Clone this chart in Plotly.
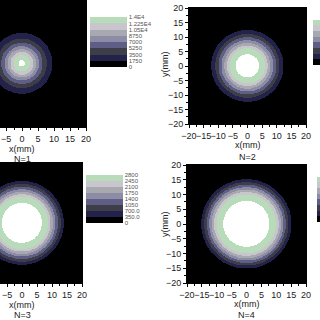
import numpy as np
import plotly.graph_objects as go

# ---------------- data ----------------
panel_names = ["N=1", "N=2", "N=3", "N=4"]

# contour level values (colorbar labels) for each panel
levels_N1 = [0, 1750, 3500, 5250, 7000, 8750, 10500, 12250, 14000]
labels_N1 = ["0", "1750", "3500", "5250", "7000", "8750", "1.05E4", "1.225E4", "1.4E4"]
levels_N3 = [0, 350, 700, 1050, 1400, 1750, 2100, 2450, 2800]
labels_N3 = ["0", "350.0", "700.0", "1050", "1400", "1750", "2100", "2450", "2800"]
# colorbars of N=2 and N=4 are cut off at the right edge: only band indices used
levels_N2 = [0, 1, 2, 3, 4, 5, 6, 7, 8]
levels_N4 = [0, 1, 2, 3, 4, 5, 6, 7, 8]

# radius (mm) of the contour line of levels[1..8]
radii_N1 = [9.6, 7.8, 6.5, 5.4, 4.5, 3.6, 2.6, 1.0]
radii_N2 = [12.4, 11.0, 9.9, 8.9, 7.9, 7.0, 6.1, 4.0]
radii_N3 = [14.0, 13.0, 12.1, 11.2, 10.4, 9.6, 8.8, 6.7]
radii_N4 = [15.2, 14.2, 13.3, 12.5, 11.7, 10.9, 10.0, 7.8]

band_colors = ["#000000", "#22224a", "#3e3e48", "#5e5e86", "#8c8ca4",
               "#a8a8b0", "#c8c6cc", "#b8dcba", "#ffffff"]

axis_ticks = [-20, -15, -10, -5, 0, 5, 10, 15, 20]

# ---------------- helpers ----------------
W = H = 320.0


def px_x(v):
    return v / W


def px_y(v):
    return 1 - v / H


grid = np.linspace(-20, 20, 401)
GX, GY = np.meshgrid(grid, grid)
R = np.sqrt(GX ** 2 + GY ** 2)


def field(levels, radii):
    step = levels[1] - levels[0]
    rp = [0.0] + radii[::-1] + [radii[0] + 2.0]
    fp = [levels[-1] + step * 0.5] + levels[1:][::-1] + [levels[0]]
    return np.interp(R, rp, fp)


def colorscale():
    n = len(band_colors)
    cs = []
    for i, c in enumerate(band_colors):
        cs.append([i / n, c])
        cs.append([(i + 1) / n, c])
    return cs


# panel geometry in pixels: left, right, top, bottom
panels = [
    dict(levels=levels_N1, labels=labels_N1, radii=radii_N1, box=(0, 86, 0, 127),
         xr=[20 - 86 / 3.2, 20], cb=(90, 37, 67), xt=149, nt=159, ytitle=None),
    dict(levels=levels_N2, labels=None, radii=radii_N2, box=(189, 306, 8, 124),
         xr=[-20, 20], cb=(313, 37, 65), xt=145, nt=157, ytitle=64),
    dict(levels=levels_N3, labels=labels_N3, radii=radii_N3, box=(0, 82, 163, 283),
         xr=[20 - 82 / 3.0, 20], cb=(86, 37, 223), xt=305, nt=315, ytitle=None),
    dict(levels=levels_N4, labels=None, radii=radii_N4, box=(187, 306, 165, 283),
         xr=[-20, 20], cb=(317, 37, 222), xt=304, nt=315, ytitle=224),
]
cb_heights = [50, 45, 48, 45]

fig = go.Figure()
layout = dict(
    width=320, height=320, margin=dict(l=0, r=0, t=0, b=0, autoexpand=False),
    paper_bgcolor="white", plot_bgcolor="black", showlegend=False,
    font=dict(family="Liberation Sans, Arial, sans-serif", color="#222"),
)
annotations = []

for i, p in enumerate(panels):
    k = i + 1
    xa = "x" if k == 1 else f"x{k}"
    ya = "y" if k == 1 else f"y{k}"
    lv = p["levels"]
    step = lv[1] - lv[0]
    z = field(lv, p["radii"])
    cb_left, cb_th, cb_bottom = p["cb"]
    band_h = cb_heights[i] / 8.0
    total_h = band_h * 9
    cbar = dict(
        x=px_x(cb_left), xanchor="left", y=px_y(cb_bottom), yanchor="bottom",
        len=total_h / H, lenmode="fraction", thickness=cb_th, thicknessmode="pixels",
        xpad=0, ypad=0, outlinewidth=0, ticks="",
        tickvals=lv,
        ticktext=p["labels"] if p["labels"] else [""] * len(lv),
        tickfont=dict(size=6, color="#555", family="Liberation Sans, Arial, sans-serif"),
    )
    fig.add_trace(go.Heatmap(
        x=grid, y=grid, z=z, zmin=0, zmax=step * 9, colorscale=colorscale(),
        colorbar=cbar, showscale=True, xaxis=xa, yaxis=ya, hoverinfo="skip",
    ))
    l, r, t, b = p["box"]
    axcommon = dict(
        showline=True, linecolor="black", linewidth=1, mirror=True,
        ticks="outside", ticklen=3, tickcolor="black", tickwidth=1,
        tickvals=axis_ticks, showgrid=False, zeroline=False, automargin=False,
        tickangle=0,
        tickfont=dict(size=9, color="#222"),
        minor=dict(ticks="outside", ticklen=2, tickcolor="black", dtick=2.5, tick0=0),
    )
    layout["xaxis" if k == 1 else f"xaxis{k}"] = dict(
        axcommon, domain=[px_x(l), px_x(r)], range=p["xr"], anchor=ya)
    layout["yaxis" if k == 1 else f"yaxis{k}"] = dict(
        axcommon, domain=[px_y(b), px_y(t)], range=[-20, 20], anchor=xa,
        showticklabels=p["ytitle"] is not None)
    annotations.append(dict(text="x(mm)", xref=xa, x=0, yref="paper", y=px_y(p["xt"]),
                            showarrow=False, font=dict(size=9, color="#222"),
                            xanchor="center", yanchor="middle"))
    annotations.append(dict(text=panel_names[i], xref=xa, x=0, yref="paper", y=px_y(p["nt"]),
                            showarrow=False, font=dict(size=9, color="#222"),
                            xanchor="center", yanchor="middle"))
    if p["ytitle"] is not None:
        annotations.append(dict(text="y(mm)", xref="paper", x=px_x(165), yref="paper",
                                y=px_y(p["ytitle"]), textangle=-90, showarrow=False,
                                font=dict(size=9, color="#222"),
                                xanchor="center", yanchor="middle"))

layout["annotations"] = annotations
fig.update_layout(**layout)
fig.write_html("out.html")
